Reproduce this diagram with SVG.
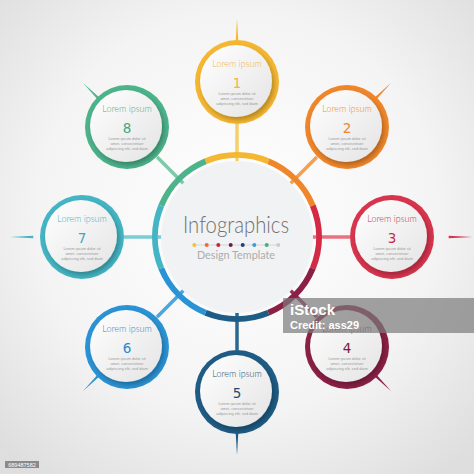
<svg xmlns="http://www.w3.org/2000/svg" xmlns:xlink="http://www.w3.org/1999/xlink" width="474" height="474" viewBox="0 0 474 474">
<defs>
<radialGradient id="bg" cx="50%" cy="45%" r="70%">
<stop offset="0" stop-color="#ffffff"/>
<stop offset="0.6" stop-color="#f4f4f4"/>
<stop offset="1" stop-color="#dedede"/>
</radialGradient>
<linearGradient id="face" x1="0" y1="0" x2="1" y2="1">
<stop offset="0" stop-color="#ffffff"/>
<stop offset="1" stop-color="#e4e4e4"/>
</linearGradient>
<filter id="sh" x="-30%" y="-30%" width="160%" height="160%">
<feDropShadow dx="2" dy="3" stdDeviation="2.5" flood-color="#000" flood-opacity="0.28"/>
</filter>
<path id="seg" d="M75.76,-31.38 A82,82 0 0 1 75.76,31.38"/>
<polygon id="spike" points="196,-1.3 218,0 196,1.3"/>
<style>
.seg{fill:none;stroke-width:6}
.spoke{stroke-width:3.5}
.face{fill:url(#face);filter:url(#sh)}
.t1{font-family:"Lato","Liberation Sans",sans-serif;font-weight:300;font-size:9px;text-anchor:middle}
.num{font-family:"DejaVu Sans","Liberation Sans",sans-serif;font-weight:normal;font-size:13.5px;text-anchor:middle}
.small{font-family:"Liberation Sans",sans-serif;font-size:3.9px;fill:#9a9a9a;text-anchor:middle}
</style>
</defs>
<rect width="474" height="474" fill="url(#bg)"/>

<g id="connectors">
<g transform="translate(237,237)">
<g transform="rotate(-90)"><line class="spoke" x1="68" y1="0" x2="113" y2="0" stroke="#f7cf6a"/><use href="#spike" fill="#f5b731"/></g>
<g transform="rotate(-45)"><line class="spoke" x1="68" y1="0" x2="113" y2="0" stroke="#f4a04e"/><use href="#spike" fill="#f0862a"/></g>
<g transform="rotate(0)"><line class="spoke" x1="68" y1="0" x2="113" y2="0" stroke="#e8737f"/><use href="#spike" fill="#d9344e" transform="scale(1.08,1)"/></g>
<g transform="rotate(45)"><line class="spoke" x1="68" y1="0" x2="113" y2="0" stroke="#9a3058"/><use href="#spike" fill="#8c1f46"/></g>
<g transform="rotate(90)"><line class="spoke" x1="68" y1="0" x2="113" y2="0" stroke="#2a6890"/><use href="#spike" fill="#1f5c85"/></g>
<g transform="rotate(135)"><line class="spoke" x1="68" y1="0" x2="113" y2="0" stroke="#4aa6df"/><use href="#spike" fill="#2a93d5"/></g>
<g transform="rotate(180)"><line class="spoke" x1="68" y1="0" x2="113" y2="0" stroke="#7ccbd6"/><use href="#spike" fill="#44b5c4" transform="scale(1.04,1)"/></g>
<g transform="rotate(225)"><line class="spoke" x1="68" y1="0" x2="113" y2="0" stroke="#7ec9ab"/><use href="#spike" fill="#4cb38b"/></g>
</g>
</g>

<g id="hub">
<circle cx="237" cy="237" r="76" fill="#f1f2f3"/>
<g transform="translate(237,237)">
<use href="#seg" class="seg" stroke="#f5b731" transform="rotate(-90)"/>
<use href="#seg" class="seg" stroke="#f0862a" transform="rotate(-45)"/>
<use href="#seg" class="seg" stroke="#d42a46" transform="rotate(0)"/>
<use href="#seg" class="seg" stroke="#8c1f46" transform="rotate(45)"/>
<use href="#seg" class="seg" stroke="#1f5c85" transform="rotate(90)"/>
<use href="#seg" class="seg" stroke="#2a93d5" transform="rotate(135)"/>
<use href="#seg" class="seg" stroke="#44b5c4" transform="rotate(180)"/>
<use href="#seg" class="seg" stroke="#4cb38b" transform="rotate(225)"/>
</g>
<text x="236" y="233" font-family="Lato,'Liberation Sans',sans-serif" font-weight="300" font-size="23" fill="#707070" text-anchor="middle" textLength="106" lengthAdjust="spacingAndGlyphs">Infographics</text>
<line x1="194" y1="245" x2="279" y2="245" stroke="#cfcfcf" stroke-width="0.8"/>
<circle cx="194.3" cy="245" r="2" fill="#f5c12e"/>
<circle cx="206.7" cy="245" r="2" fill="#ef6a3a"/>
<circle cx="218.3" cy="245" r="2" fill="#c8243f"/>
<circle cx="230.7" cy="245" r="2" fill="#6b1d4e"/>
<circle cx="242.7" cy="245" r="2" fill="#1e3f78"/>
<circle cx="254.3" cy="245" r="2" fill="#3a9bd8"/>
<circle cx="266.7" cy="245" r="2" fill="#3fb27f"/>
<circle cx="278.3" cy="245" r="2" fill="#cccccc"/>
<text x="236" y="259" font-family="Lato,'Liberation Sans',sans-serif" font-size="11" fill="#acacac" text-anchor="middle" textLength="78" lengthAdjust="spacingAndGlyphs">Design Template</text>
</g>

<g id="node1" transform="translate(237,82)">
<circle r="42" fill="#f5b731"/>
<circle class="face" cx="-1" cy="-1" r="36"/>
<text class="t1" y="-15" fill="#f0b640">Lorem ipsum</text>
<text class="num" y="6" fill="#f5b731">1</text>
<text class="small" y="13">Lorem ipsum dolor sit</text>
<text class="small" y="18">amet, consectetuer</text>
<text class="small" y="23">adipiscing elit, sed diam</text>
</g>
<g id="node2" transform="translate(347,127)">
<circle r="42" fill="#f0862a"/>
<circle class="face" cx="-1" cy="-1" r="36"/>
<text class="t1" y="-15" fill="#ee8a36">Lorem ipsum</text>
<text class="num" y="6" fill="#f0862a">2</text>
<text class="small" y="13">Lorem ipsum dolor sit</text>
<text class="small" y="18">amet, consectetuer</text>
<text class="small" y="23">adipiscing elit, sed diam</text>
</g>
<g id="node3" transform="translate(392,237)">
<circle r="42" fill="#d9344e"/>
<circle class="face" cx="-1" cy="-1" r="36"/>
<text class="t1" y="-15" fill="#c8344e">Lorem ipsum</text>
<text class="num" y="6" fill="#c8284a">3</text>
<text class="small" y="13">Lorem ipsum dolor sit</text>
<text class="small" y="18">amet, consectetuer</text>
<text class="small" y="23">adipiscing elit, sed diam</text>
</g>
<g id="node4" transform="translate(347,347)">
<circle r="42" fill="#8c1f46"/>
<circle class="face" cx="-1" cy="-1" r="36"/>
<text class="t1" y="-15" fill="#8c1f46">Lorem ipsum</text>
<text class="num" y="6" fill="#7a1a40">4</text>
<text class="small" y="13">Lorem ipsum dolor sit</text>
<text class="small" y="18">amet, consectetuer</text>
<text class="small" y="23">adipiscing elit, sed diam</text>
</g>
<g id="node5" transform="translate(237,392)">
<circle r="42" fill="#1f5c85"/>
<circle class="face" cx="-1" cy="-1" r="36"/>
<text class="t1" y="-15" fill="#2b4f6e">Lorem ipsum</text>
<text class="num" y="6" fill="#1d4a70">5</text>
<text class="small" y="13">Lorem ipsum dolor sit</text>
<text class="small" y="18">amet, consectetuer</text>
<text class="small" y="23">adipiscing elit, sed diam</text>
</g>
<g id="node6" transform="translate(127,347)">
<circle r="42" fill="#2a93d5"/>
<circle class="face" cx="-1" cy="-1" r="36"/>
<text class="t1" y="-15" fill="#2a8ccc">Lorem ipsum</text>
<text class="num" y="6" fill="#2a88c8">6</text>
<text class="small" y="13">Lorem ipsum dolor sit</text>
<text class="small" y="18">amet, consectetuer</text>
<text class="small" y="23">adipiscing elit, sed diam</text>
</g>
<g id="node7" transform="translate(82,237)">
<circle r="42" fill="#44b5c4"/>
<circle class="face" cx="-1" cy="-1" r="36"/>
<text class="t1" y="-15" fill="#48b3c2">Lorem ipsum</text>
<text class="num" y="6" fill="#38a9b9">7</text>
<text class="small" y="13">Lorem ipsum dolor sit</text>
<text class="small" y="18">amet, consectetuer</text>
<text class="small" y="23">adipiscing elit, sed diam</text>
</g>
<g id="node8" transform="translate(127,127)">
<circle r="42" fill="#4cb38b"/>
<circle class="face" cx="-1" cy="-1" r="36"/>
<text class="t1" y="-15" fill="#4eb08a">Lorem ipsum</text>
<text class="num" y="6" fill="#40a67e">8</text>
<text class="small" y="13">Lorem ipsum dolor sit</text>
<text class="small" y="18">amet, consectetuer</text>
<text class="small" y="23">adipiscing elit, sed diam</text>
</g>

<g id="watermark">
<rect x="283" y="298" width="191" height="35" fill="#7a7a7a" fill-opacity="0.7"/>
<text x="290" y="315" font-family="'Liberation Sans',sans-serif" font-weight="bold" font-size="15" fill="#ffffff">iStock</text>
<text x="290" y="329" font-family="'Liberation Sans',sans-serif" font-weight="bold" font-size="11" fill="#ffffff">Credit: ass29</text>
<rect x="5" y="461" width="34" height="7" fill="#8a8a8a"/>
<text x="22" y="466.5" font-family="'Liberation Sans',sans-serif" font-size="5.5" fill="#ffffff" text-anchor="middle">689487582</text>
</g>
</svg>
